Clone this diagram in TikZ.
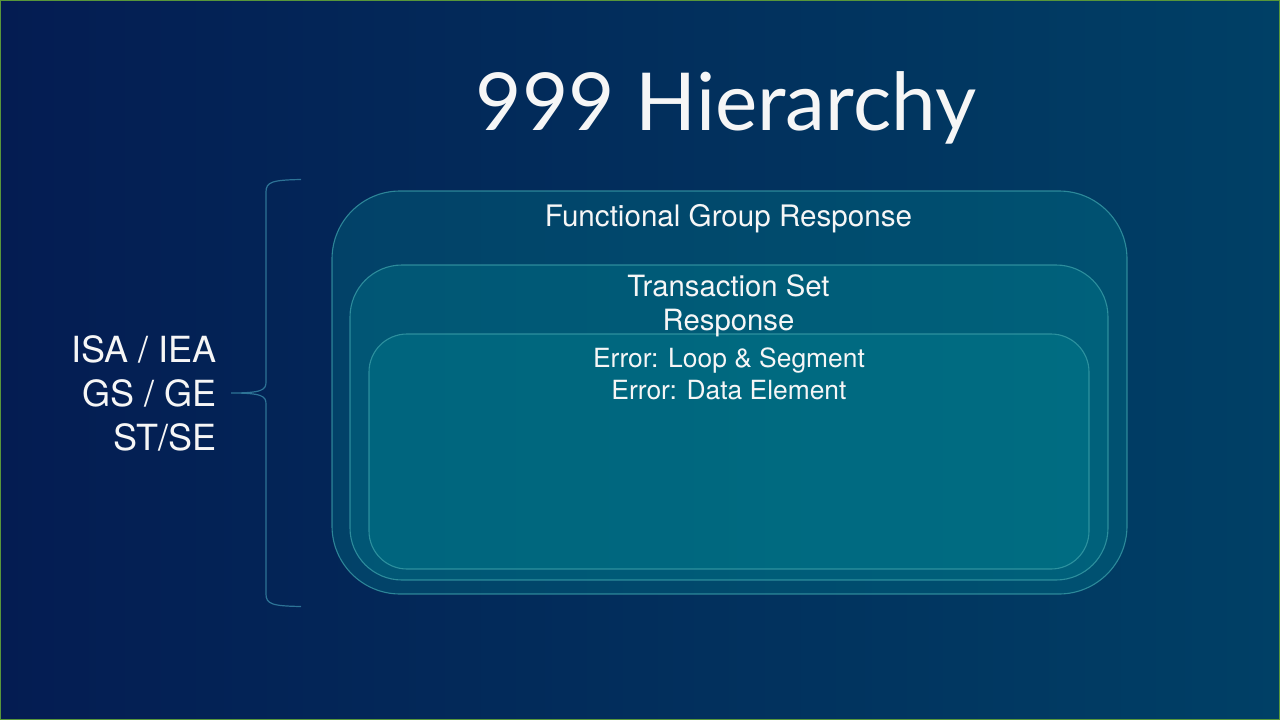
\documentclass[tikz,border=0pt]{standalone}
\usepackage{fontspec}
\setmainfont{TeX Gyre Heros}
\newfontfamily\titlefont{Lato}
\definecolor{bgleft}{RGB}{4,28,82}
\definecolor{bgright}{RGB}{0,64,102}
\definecolor{frame}{RGB}{88,150,58}
\definecolor{layerfill}{RGB}{0,140,150}
\definecolor{layerline}{RGB}{60,160,170}
\definecolor{bracecol}{RGB}{45,115,150}
\definecolor{txt}{RGB}{246,246,246}
\tikzset{
  layer/.style={draw=layerline, draw opacity=0.75, line width=1.1pt,
    fill=layerfill, fill opacity=0.28},
  label/.style={text=txt, inner sep=0pt, anchor=base},
}
\begin{document}
\begin{tikzpicture}[x=1pt, y=-1pt]
  \useasboundingbox (0,0) rectangle (1280,720);
  \shade [left color=bgleft, right color=bgright] (0,0) rectangle (1280,720);
  \draw [frame, line width=2.5pt] (0,0) rectangle (1280,720);

\draw [layer, rounded corners=68pt] (332,191) rectangle (1127,594);
\draw [layer, rounded corners=52pt] (350,265) rectangle (1108,580);
\draw [layer, rounded corners=38pt] (369,334) rectangle (1089,569);

% brace
\draw [bracecol, line width=1.2pt]
(301,179.5) .. controls (272,180) and (266,182) .. (266,192) -- (266,382)
.. controls (266,390) and (262,393) .. (231,393)
.. controls (262,393) and (266,396) .. (266,404) -- (266,594)
.. controls (266,604) and (272,606) .. (301,606.5);

\node [label, font=\titlefont\fontsize{80}{80}\selectfont] (title) at (726,130) {999 Hierarchy};

\node [label, font=\fontsize{29.6}{29.6}\selectfont] (fgroup) at (728.5,226) {Functional Group Response};
\node [label, font=\fontsize{29.3}{29.3}\selectfont] (tset) at (728.5,296) {Transaction Set};
\node [label, font=\fontsize{29.3}{29.3}\selectfont] (tresp) at (728.5,330) {Response};
\node [label, font=\fontsize{26.4}{26.4}\selectfont] (errloop) at (729,367) {Error: Loop \& Segment};
\node [label, font=\fontsize{26.4}{26.4}\selectfont] (errdata) at (729,399) {Error: Data Element};

\node [label, anchor=base east, font=\fontsize{36}{36}\selectfont] (isa) at (217,362) {ISA / IEA};
\node [label, anchor=base east, font=\fontsize{36}{36}\selectfont] (gs) at (217,406) {GS / GE};
\node [label, anchor=base east, font=\fontsize{36}{36}\selectfont] (st) at (217,450) {ST/SE};
\end{tikzpicture}
\end{document}
